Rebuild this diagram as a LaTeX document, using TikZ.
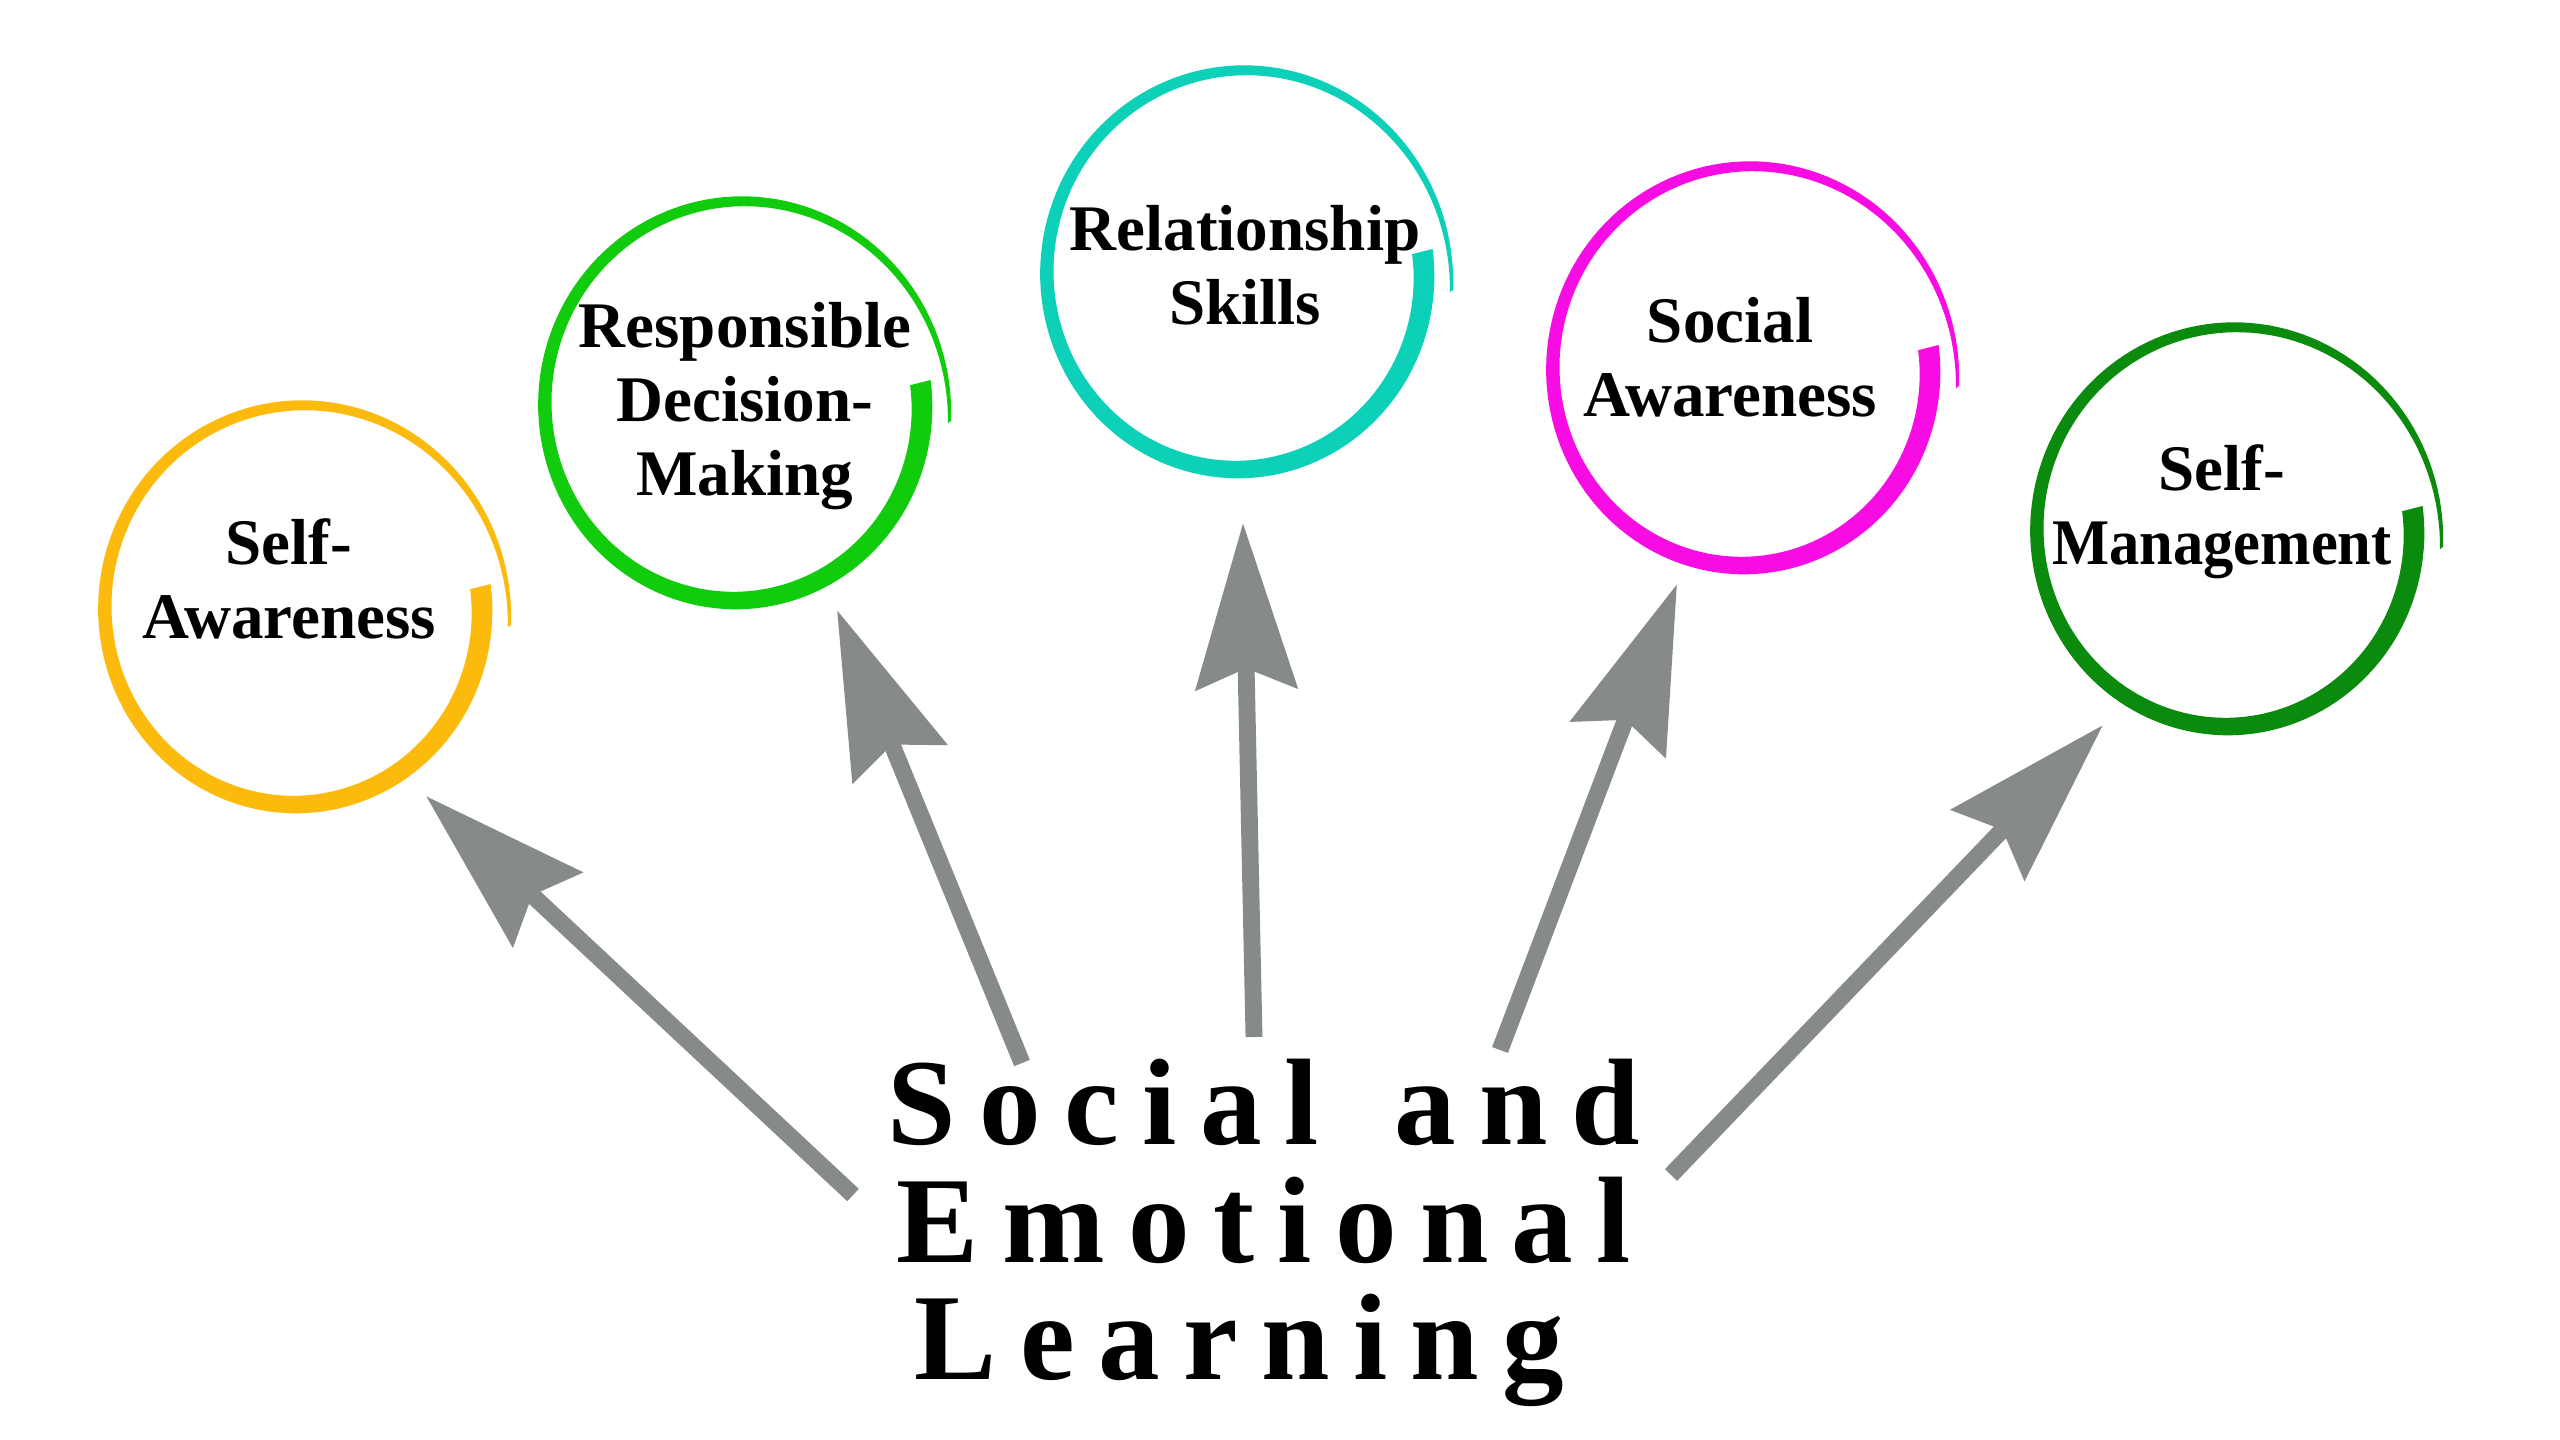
\documentclass[tikz,border=0pt]{standalone}
\usepackage{fontspec}
\setmainfont{Liberation Serif}
\newfontfamily\titlefont[LetterSpace=19, WordSpace=1.4]{Liberation Serif}
\usetikzlibrary{arrows.meta}
\definecolor{ringYellow}{HTML}{FBBA0C}
\definecolor{ringGreen}{HTML}{11CC0D}
\definecolor{ringTeal}{HTML}{0CD0B8}
\definecolor{ringMagenta}{HTML}{F80CE4}
\definecolor{ringDarkGreen}{HTML}{0A8B0E}
\definecolor{arrowGray}{HTML}{878A8B}
% raggio, spessore e angolo della spirale (t da 0 a 1)
\pgfmathdeclarefunction{ringr}{1}{\pgfmathparse{185+28*#1*#1}}
\pgfmathdeclarefunction{ringw}{1}{\pgfmathparse{21-15*#1-3*#1^12}}
\pgfmathdeclarefunction{ringa}{1}{\pgfmathparse{8-372*#1}}
\newcommand{\brushRing}[3]{
\fill[#3] plot[domain=0:1, samples=150, variable=\t] ({#1+(ringr(\t)+ringw(\t)/2)*cos(ringa(\t))},{#2-1.03*(ringr(\t)+ringw(\t)/2)*sin(ringa(\t))})
  -- plot[domain=1:0, samples=150, variable=\t] ({#1+(ringr(\t)-ringw(\t)/2)*cos(ringa(\t))},{#2-1.03*(ringr(\t)-ringw(\t)/2)*sin(ringa(\t))}) -- cycle;
}
\tikzset{
  ringlabel/.style={font=\bfseries\fontsize{18.5}{21}\selectfont, align=center, inner sep=0pt},
  growarrow/.style={draw=arrowGray, line width=4.8pt, -{Stealth[length=47pt, width=28.5pt, inset=5.7pt]}}
}

\begin{document}
\begin{tikzpicture}[x=0.01cm, y=-0.01cm]
    \useasboundingbox (0,0) rectangle (2560,1439);
    \fill[white] (0,0) rectangle (2560,1439);

    % Cerchi
    \brushRing{297}{612}{ringYellow}
    \brushRing{737}{408}{ringGreen}
    \brushRing{1239}{277}{ringTeal}
    \brushRing{1745}{373}{ringMagenta}
    \brushRing{2229}{534}{ringDarkGreen}

    % Etichette
    \node[ringlabel] (SelfAware) at (289,579) {Self-\\Awareness};
    \node[ringlabel] (Decision) at (745,406) {Responsible\\Decision-\\Making};
    \node[ringlabel] (Relation) at (1245,265) {Relationship\\Skills};
    \node[ringlabel] (SocialAware) at (1730,357) {Social\\Awareness};
    \node[ringlabel] (SelfManage) at (2222,512) {Self-\\\scalebox{0.93}[1]{Management}};

    % Titolo
    \node[align=center, inner sep=0pt, font=\titlefont\bfseries\fontsize{35}{33.5}\selectfont] (Title) at (1264,1233) {Social and\\Emotional\\Learning\hspace*{14pt}};

    % Frecce
    \coordinate (TailOne) at (853,1195);
    \coordinate (TipOne) at (426,796);
    \coordinate (TailTwo) at (1022,1063);
    \coordinate (TipTwo) at (837,610);
    \coordinate (TailThree) at (1254,1037);
    \coordinate (TipThree) at (1243,523);
    \coordinate (TailFour) at (1500,1050);
    \coordinate (TipFour) at (1677,584);
    \coordinate (TailFive) at (1671,1175);
    \coordinate (TipFive) at (2103,725);
    \draw[growarrow] (TailOne) -- (TipOne);
    \draw[growarrow] (TailTwo) -- (TipTwo);
    \draw[growarrow] (TailThree) -- (TipThree);
    \draw[growarrow] (TailFour) -- (TipFour);
    \draw[growarrow] (TailFive) -- (TipFive);
\end{tikzpicture}
\end{document}
